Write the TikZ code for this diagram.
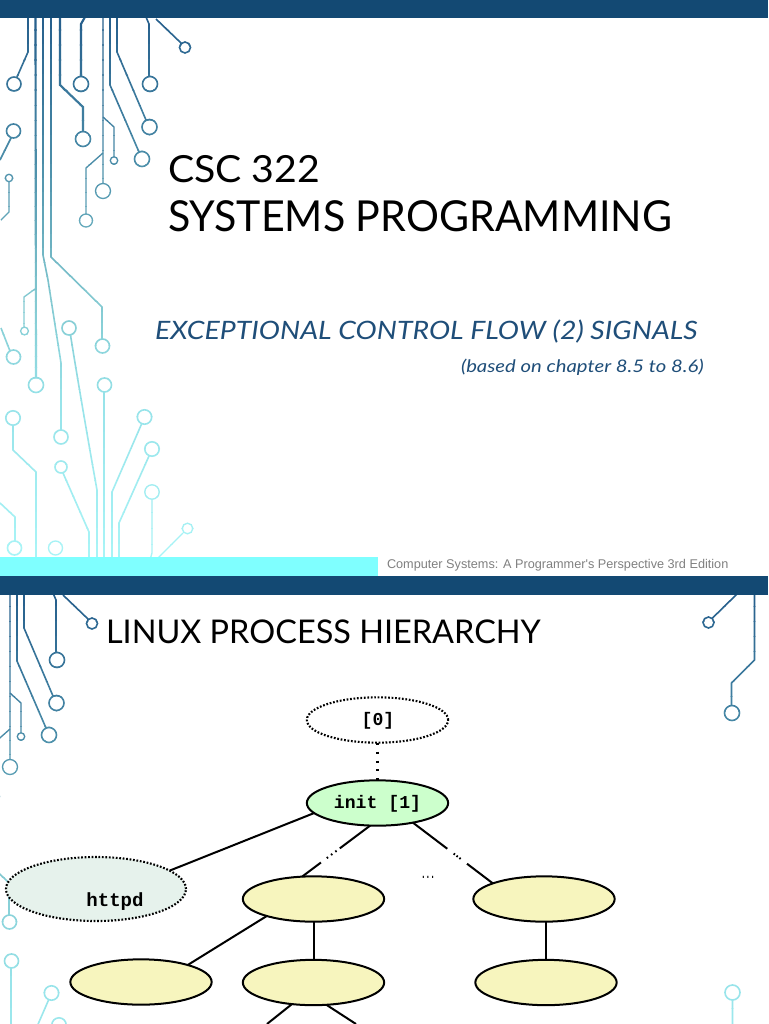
\documentclass[tikz,border=0pt]{standalone}
\usepackage{graphicx}
\usepackage{fontspec}
\setmainfont{Lato}
\newfontfamily\monob{Liberation Mono}[BoldFont={Liberation Mono Bold}]
\newfontfamily\arialf{Liberation Sans}
\usetikzlibrary{shapes.geometric}
\definecolor{barblue}{RGB}{19,73,115}
\definecolor{barcyan}{RGB}{127,255,255}
\definecolor{titleblue}{RGB}{31,78,121}
\definecolor{gc}{RGB}{36,92,138}
\definecolor{procy}{RGB}{247,245,190}
\definecolor{procg}{RGB}{204,255,204}
\definecolor{proch}{RGB}{230,242,236}
\tikzset{
 tk/.style={draw=gc,line width=1.6pt,line join=miter},
 tm/.style={draw=gc,line width=1.2pt,line join=miter},
 tn/.style={draw=gc,line width=1.0pt,line join=miter},
 proc/.style={shape=ellipse,draw=black,line width=1.5pt,inner sep=0pt,outer sep=0pt,minimum width=106pt,minimum height=34pt},
 dottedproc/.style={proc,line width=1.6pt,dash pattern=on 1.3pt off 1.3pt},
 edge/.style={draw=black,line width=1.5pt},
 slidetext/.style={inner sep=0pt,outer sep=0pt,anchor=base west},
 monotext/.style={inner sep=0pt,outer sep=0pt,anchor=base,font=\monob\bfseries}
}
% Circuit traces, in the pixel coordinates of the first slide
\newcommand{\tracesmain}{%
 \draw[tm] (28,17)--(28,52)--(17,77) (14,84) circle[radius=7];
 \draw[tk] (35.5,17)--(36,378);
 \draw[tm] (36,385) circle[radius=7.5];
 \draw[tm] (43,17)--(43,255)--(48,280)--(61,363)--(61,430) (61,437) circle[radius=7];
 \draw[tm] (51,17)--(51,257)--(102,307)--(102,339) (102.5,346) circle[radius=7];
 \draw[tk] (60,17)--(60,85)--(83,107)--(83,132);
 \draw[tm] (83,139) circle[radius=7.5];
 \draw[tk] (85,17)--(81,24)--(81,77);
 \draw[tm] (81,84) circle[radius=7.5];
 \draw[tn] (103,17)--(103,184) (103,191) circle[radius=7.5];
 \draw[tn] (103,117)--(114,127)--(114,156.5) (114,160.5) circle[radius=3.7];
 \draw[tn] (103,153)--(86,168)--(86,214) (86,220.5) circle[radius=6.5];
 \draw[tm] (110,17)--(110,85)--(139,152) (142,159) circle[radius=7.5];
 \draw[tm] (117,17)--(117,52)--(146,120) (149.5,127) circle[radius=7.5];
 \draw[tm] (146,17)--(149,24)--(149,77) (150,84) circle[radius=7.5];
 \draw[tm] (156,19)--(181,43) (185,47.5) circle[radius=5.5];
 \draw[tm] (0,160)--(11,138) (13.5,131) circle[radius=7];
 \draw[tn] (9,182)--(9,212)--(1,220) (9,178) circle[radius=3.7];
 \draw[tn] (35,289)--(24,297)--(24,327) (24.5,331) circle[radius=3.9];
 \draw[tm] (1,328)--(10,351) (13.5,357) circle[radius=7];
 \draw[tm] (70.5,335) .. controls (76,370) and (88,440) .. (97,490)--(97,560) (69,328) circle[radius=7];
 \draw[tm] (104,392)--(104,560) (104.5,385) circle[radius=7];
 \draw[tm] (142,423)--(112,492)--(112,560) (144.5,417) circle[radius=7.2];
 \draw[tm] (149,456)--(119,523)--(119,560) (152,449) circle[radius=7.2];
 \draw[tn] (152,499)--(152,553)--(150,560) (152,492) circle[radius=7.2];
 \draw[tn] (183,533)--(156,560) (187.5,528.5) circle[radius=5.3];
 \draw[tm] (63,473)--(89,532)--(89,560) (61,467) circle[radius=6];
 \draw[tm] (13,425)--(13,450)--(36,472)--(36,560) (13,418) circle[radius=7.2];
 \draw[tm] (15,541)--(15,517)--(0,503) (14.5,548) circle[radius=7];
 \draw[tn] (55.5,548) circle[radius=7];
}
\newcommand{\tracesright}{%
 \draw[tm] (737,594)--(712,618.5) (708.5,622.5) circle[radius=5.5];
 \draw[tm] (754.5,590)--(754.5,660)--(731.5,683)--(731.5,706) (732,713) circle[radius=7.5];
 \draw[tm] (732.5,1000)--(732.5,1030) (732.5,992.5) circle[radius=7.5];
}
% Paint #2 band after band for a vertical colour gradient; bands overlap by a hair
\newcommand{\gradlayer}[2]{%
 \foreach \ya/\yb/\ra/\ga/\ba/\rb/\gb/\bb in {
   0/150/36/92/138/74/140/168,
   150/290/74/140/168/130/200/208,
   290/400/130/200/208/152/228/234,
   400/560/152/228/234/170/246/248}{%
  \foreach \i in {0,...,9}{%
   \pgfmathtruncatemacro{\cr}{\ra+(\rb-\ra)*\i/10}%
   \pgfmathtruncatemacro{\cg}{\ga+(\gb-\ga)*\i/10}%
   \pgfmathtruncatemacro{\cb}{\ba+(\bb-\ba)*\i/10}%
   \pgfmathsetmacro{\yy}{\ya+(\yb-\ya)*\i/10+#1}%
   \pgfmathsetmacro{\yz}{\yy+(\yb-\ya)/10+0.3}%
   \definecolor{gc}{RGB}{\cr,\cg,\cb}%
   \begin{scope}
    \clip (-10,\yy) rectangle (800,\yz);
    #2
   \end{scope}
  }%
 }%
}
\newcommand{\fitto}[2]{\resizebox{#1}{\height}{#2}}
\begin{document}
\begin{tikzpicture}[x=0.75pt,y=-0.75pt]
\useasboundingbox (0,0) rectangle (768,1024);
\fill[white] (0,0) rectangle (768,1024);
% first slide traces
\begin{scope}
 \clip (0,0) rectangle (768,576);
 \gradlayer{0}{\tracesmain}
\end{scope}
% second slide traces
\begin{scope}
 \clip (0,576) rectangle (768,1024);
 \begin{scope}[shift={(-93,576)}]
  \gradlayer{0}{\tracesmain}
 \end{scope}
 \gradlayer{576}{\tracesright}
\end{scope}
% bars
\fill[barblue] (0,0) rectangle (768,18.5);
\fill[barcyan] (0,557) rectangle (378,576);
\fill[barblue] (0,576) rectangle (768,594.5);
% slide 1 texts
\node[slidetext] (t1) at (168,182) {\fitto{114pt}{\fontsize{28}{30}\selectfont CSC 322}};
\node[slidetext] (t2) at (168,231) {\fitto{378pt}{\fontsize{32}{34}\selectfont SYSTEMS PROGRAMMING}};
\node[slidetext,text=titleblue] (t3) at (155,339) {\fitto{407pt}{\fontsize{19}{22}\selectfont\itshape EXCEPTIONAL CONTROL FLOW (2) SIGNALS}};
\node[slidetext,text=titleblue] (t4) at (461,372) {\fitto{182pt}{\fontsize{13}{15}\selectfont\itshape (based on chapter 8.5 to 8.6)}};
\node[slidetext,text=black!50] (t5) at (387,568) {\fitto{256pt}{\arialf\fontsize{9.5}{11}\selectfont Computer Systems: A Programmer's Perspective 3rd Edition}};
% slide 2
\node[slidetext] (t6) at (106,643) {\fitto{326pt}{\fontsize{24.5}{27}\selectfont LINUX PROCESS HIERARCHY}};
\node[dottedproc] (p0) at (377.5,720) {};
\node[proc,fill=procg] (init) at (377.5,803) {};
\node[dottedproc,fill=proch,minimum width=135pt,minimum height=48pt] (httpd) at (96,889) {};
\node[proc,fill=procy] (y1) at (313.5,899) {};
\node[proc,fill=procy] (y2) at (544,899) {};
\node[proc,fill=procy] (y3) at (141,982) {};
\node[proc,fill=procy] (y4) at (313.5,982.5) {};
\node[proc,fill=procy] (y5) at (546,982.5) {};
\node[monotext,font=\monob\bfseries\fontsize{13.6}{15}\selectfont] (l0) at (378,725) {[0]};
\node[monotext,font=\monob\bfseries\fontsize{13.6}{15}\selectfont] (l1) at (377.5,808) {init [1]};
\node[monotext,font=\monob\bfseries\fontsize{14.3}{16}\selectfont] (l2) at (115,906) {httpd};
\node[monotext] (l3) at (428,878.5) {\fitto{10.5pt}{\fontsize{11}{12}\selectfont ...}};
\coordinate (e1) at (267,1024);
\coordinate (e2) at (356,1024);
\draw[edge,line width=1.6pt,dash pattern=on 1.5pt off 5.2pt] (p0) -- (init);
\draw[edge] (init.189.5) -- (httpd.14.8);
\draw[edge,dash pattern=on 28.5pt off 3pt on 1.2pt off 2.8pt on 1.2pt off 2.8pt on 1.2pt off 5.5pt on 40pt] (init.252) -- (y1.117.6);
\draw[edge,dash pattern=on 32.4pt off 6pt on 1.2pt off 1.5pt on 1.2pt off 1.5pt on 1.2pt off 6pt on 40pt] (init.331) -- (y2.163.4);
\draw[edge] (y1.200.3) -- (y3.20);
\draw[edge] (y1) -- (y4);
\draw[edge,line width=2.2pt] (y2.south -| y5) -- (y5.north);
\draw[edge] (y4.225.7) -- (e1);
\draw[edge] (y4.300) -- (e2);
\end{tikzpicture}
\end{document}
